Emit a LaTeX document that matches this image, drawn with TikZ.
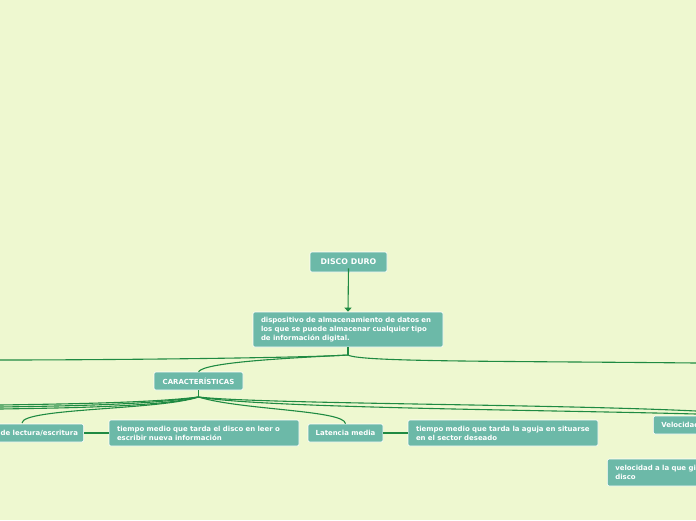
\documentclass[tikz,border=0pt]{standalone}
\usepackage{fontspec}
\setmainfont{DejaVu Sans}
\usetikzlibrary{arrows.meta}
\definecolor{bgc}{RGB}{238,248,208}
\definecolor{nodec}{RGB}{108,185,168}
\definecolor{linec}{RGB}{31,138,66}
\tikzset{
  box/.style={draw=white, line width=0.6pt, fill=nodec, rounded corners=2pt,
    text=white, font=\bfseries\fontsize{6.95}{9}\selectfont, inner sep=0pt},
  wide/.style={box, text width=174pt, align=left, inner xsep=8pt, minimum width=190pt},
  conn/.style={draw=linec, line width=1.1pt},
}
\begin{document}
\begin{tikzpicture}[x=1pt,y=-1pt]
\fill[bgc] (0,0) rectangle (696,520);
\useasboundingbox (0,0) rectangle (696,520);

\node[box, minimum width=77pt, minimum height=20pt, font=\bfseries\fontsize{7.8}{9}\selectfont] (disco) at (348.5,262) {DISCO DURO};
\node[wide, minimum height=35pt] (def) at (348,329.5)
  {dispositivo de almacenamiento de datos en\\los que se puede almacenar cualquier tipo\\de información digital.};
\node[box, minimum width=89pt, minimum height=18pt] (car) at (198.5,381) {CARACTERÍSTICAS};
\node[box, anchor=east, minimum height=18pt, text width=80pt, align=left, inner xsep=3pt] (lect) at (84,433) {de lectura/escritura};
\node[wide, minimum height=26pt] (tlect) at (204,433)
  {tiempo medio que tarda el disco en leer o\\escribir nueva información};
\node[box, minimum width=75pt, minimum height=18pt] (lat) at (345.5,433) {Latencia media};
\node[wide, minimum height=26pt] (tlat) at (503,433)
  {tiempo medio que tarda la aguja en situarse\\en el sector deseado};
\node[box, anchor=west, minimum height=18pt, inner xsep=8pt] (vel) at (653,425) {Velocidad};
\node[wide, anchor=west, minimum height=27pt] (tvel) at (607,472.5)
  {velocidad a la que gi\\disco};

% coordinates
\coordinate (ds) at (348,355);
\coordinate (cs) at (198.5,397);
\coordinate (defL) at (0,360);
\coordinate (defR) at (696,363);
\coordinate (carL1) at (0,405);
\coordinate (carL2) at (0,407);
\coordinate (carL3) at (0,409);
\coordinate (lectT) at (22,423);
\coordinate (carR1) at (696,411);
\coordinate (carR2) at (696,414);

% connectors
\draw[conn, -{Triangle[width=7pt,length=4pt]}] ([yshift=4pt]disco.south) -- (def.north);
\draw[conn] (def.south) -- (ds);
\draw[conn] (ds) .. controls (300,358) and (100,360) .. (defL);
\draw[conn] (ds) .. controls (290,358) and (205,362) .. (car.north);
\draw[conn] (ds) .. controls (360,362) and (500,361) .. (defR);

\draw[conn] (car.south) -- (cs);
\draw[conn] (cs) .. controls (150,403) and (60,404) .. (carL1);
\draw[conn] (cs) .. controls (150,405) and (60,406) .. (carL2);
\draw[conn] (cs) .. controls (160,407) and (60,408) .. (carL3);
\draw[conn] (cs) .. controls (160,410) and (22,408) .. (lectT);
\draw[conn] (cs) .. controls (240,410) and (345,410) .. (lat.north);
\draw[conn] (cs) .. controls (260,404) and (550,404) .. (carR1);
\draw[conn] (cs) .. controls (260,408) and (550,410) .. (carR2);

\draw[conn] (lect.east) -- (tlect.west);
\draw[conn] (lat.east) -- (tlat.west);
\end{tikzpicture}
\end{document}
